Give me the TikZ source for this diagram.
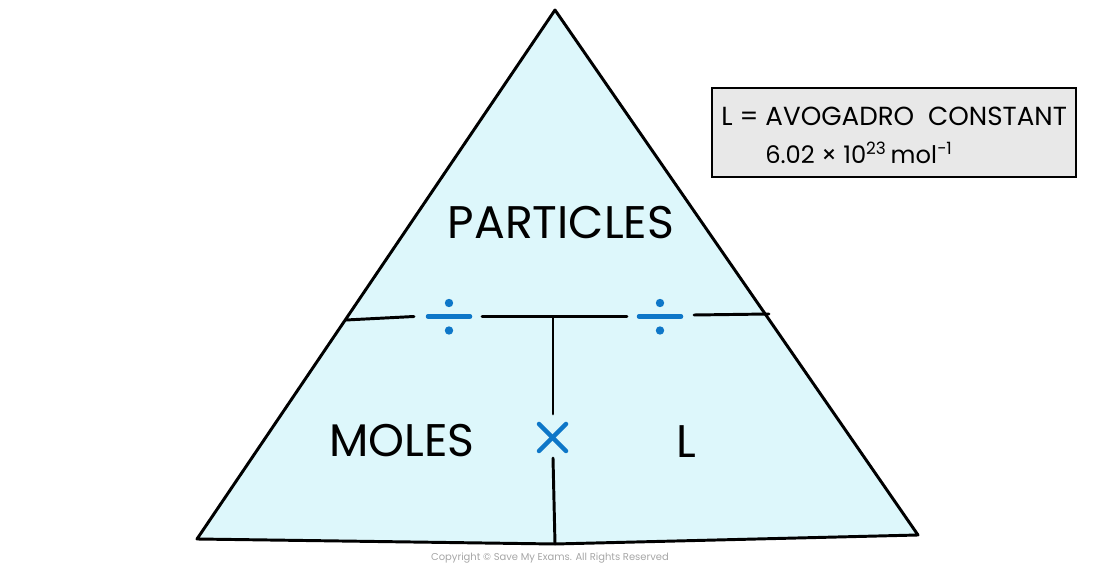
\documentclass[tikz,border=0pt]{standalone}
\usepackage{fontspec}
\setmainfont{Poppins}
\usepackage{tikz}
\usetikzlibrary{positioning}

\definecolor{triFill}{HTML}{DDF7FB}
\definecolor{boxFill}{HTML}{E8E8E8}
\definecolor{opBlue}{HTML}{0E77C8}
\definecolor{copyGrey}{HTML}{A6A6A6}

\begin{document}
\begin{tikzpicture}
             %% setup
             [
                 x=0.025cm, y=-0.025cm,
                 edgeline/.style={draw=black, line width=2.1pt, line cap=round, line join=round},
                 bigword/.style={inner sep=0pt, font=\fontsize{32.5}{36}\selectfont},
                 optext/.style={draw=opBlue, line width=3.2pt, line cap=round},
                 opdot/.style={fill=opBlue, draw=none},
                 constbox/.style={rectangle, draw=black, fill=boxFill, line width=1.4pt, minimum width=364*0.025cm, minimum height=89*0.025cm, inner sep=0pt},
             ]
                 \useasboundingbox (0,0) rectangle (1100,569);

                 %% Corners
                 \coordinate (apex) at (555,10);
                 \coordinate (botLeft) at (197,539);
                 \coordinate (botRight) at (918,535);
                 \coordinate (midLeft) at (346,320);
                 \coordinate (midRight) at (769,314);
                 \coordinate (junction) at (553,317);
                 \coordinate (botMid) at (555,544);

                 %% Triangle
                 \fill[triFill] (apex) -- (botRight) -- (botMid) -- (botLeft) -- cycle;
                 \draw[edgeline] (apex) -- (botRight) -- (botMid) -- (botLeft) -- cycle;

                 %% Dividing lines, broken for the signs
                 \draw[edgeline] (midLeft) -- (414,316.5);
                 \draw[edgeline] (482,316.5) -- (627,316.5);
                 \draw[edgeline] (694,315) -- (midRight);
                 \draw[edgeline] (junction) -- (553,414);
                 \draw[edgeline] (553,458) -- (botMid);

                 %% Words
                 \node [bigword] (particles) at (561,223) {PARTICLES};
                 \node [bigword] (moles) at (402,441) {MOLES};
                 \node [bigword] (avoL) at (686,442) {L};

                 %% Signs
                 \foreach \cx/\nm in {449/divLeft, 660/divRight} {
                     \coordinate (\nm) at (\cx,316.5);
                     \draw[optext] (\cx-21,316.5) -- (\cx+21,316.5);
                     \fill[opdot] (\cx,303) circle (4.2);
                     \fill[opdot] (\cx,330.5) circle (4.2);
                 }
                 \coordinate (times) at (553,437);
                 \draw[optext] (539,424) -- (566,451);
                 \draw[optext] (566,424) -- (539,451);

                 %% Constant box
                 \node [constbox] (constant) at (894,132.5) {};
                 \node [inner sep=0pt, anchor=west, font=\fontsize{18.6}{21}\selectfont] (constLine) at (721,116) {L = AVOGADRO\ \ CONSTANT};
                 \node [inner sep=0pt, anchor=west, font=\fontsize{17.2}{20}\selectfont] (constValue) at (765,153) {6.02 × 10\textsuperscript{23}\,mol\textsuperscript{−1}};

                 %% Footer
                 \node [text=copyGrey, font=\fontsize{7.1}{9}\selectfont] (copyright) at (550,558) {Copyright © Save My Exams. All Rights Reserved};
\end{tikzpicture}
\end{document}
